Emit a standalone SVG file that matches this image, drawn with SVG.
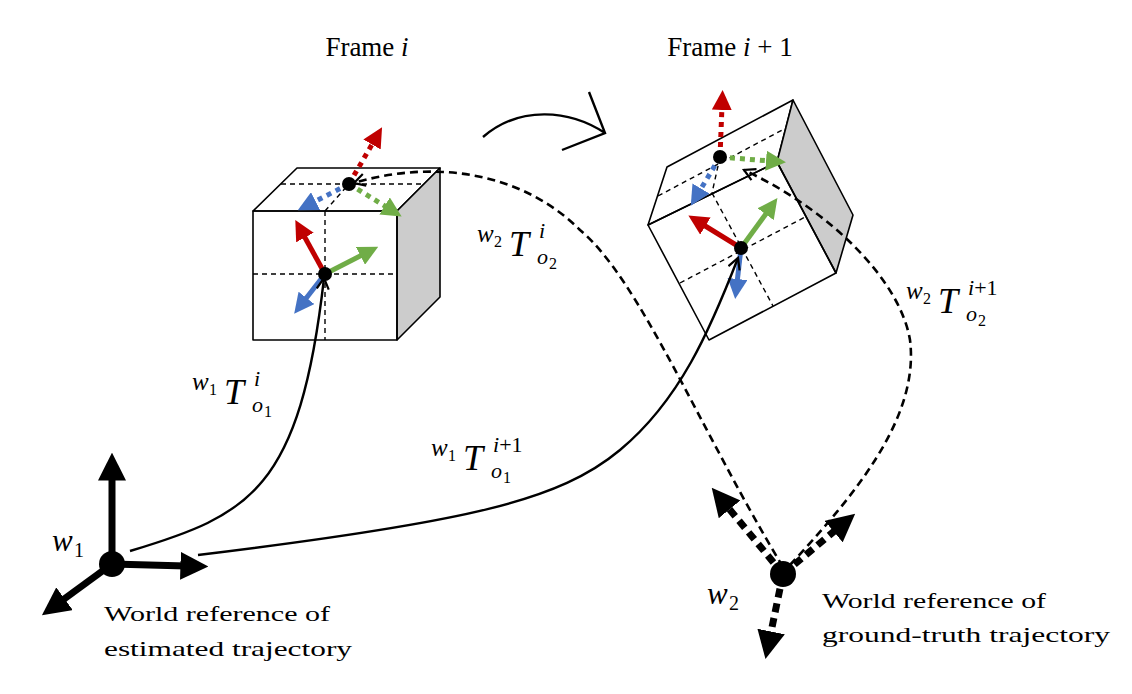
<svg xmlns="http://www.w3.org/2000/svg" width="1132" height="694" viewBox="0 0 1132 694">
<defs>
<marker id="oa" viewBox="0 0 14 14" refX="12" refY="7" markerWidth="14" markerHeight="14" markerUnits="userSpaceOnUse" orient="auto"><path d="M1,1 L12,7 L1,13" fill="none" stroke="#000" stroke-width="2.2"/></marker>
<marker id="trR" viewBox="0 0 10 10" refX="2" refY="5" markerWidth="4" markerHeight="4" orient="auto"><path d="M0,0 L10,5 L0,10 z" fill="#c00000"/></marker>
<marker id="trG" viewBox="0 0 10 10" refX="2" refY="5" markerWidth="4" markerHeight="4" orient="auto"><path d="M0,0 L10,5 L0,10 z" fill="#70ad47"/></marker>
<marker id="trB" viewBox="0 0 10 10" refX="2" refY="5" markerWidth="4" markerHeight="4" orient="auto"><path d="M0,0 L10,5 L0,10 z" fill="#4472c4"/></marker>
<marker id="trK" viewBox="0 0 10 10" refX="2" refY="5" markerWidth="4" markerHeight="4" orient="auto"><path d="M0,0 L10,5 L0,10 z" fill="#000"/></marker>
</defs>
<style>
.e{fill:none;stroke:#000;stroke-width:1.6;stroke-linejoin:round}
.d{fill:none;stroke:#000;stroke-width:1.4;stroke-dasharray:5,4}
.s{fill:#ccc;stroke:#000;stroke-width:1.6;stroke-linejoin:round}
.r{stroke:#c00000;stroke-width:5;marker-end:url(#trR)}
.g{stroke:#70ad47;stroke-width:5;marker-end:url(#trG)}
.b{stroke:#4472c4;stroke-width:5;marker-end:url(#trB)}
.dot{stroke-dasharray:5,5}
.t{font-family:"Liberation Serif",serif;fill:#000}
.i{font-style:italic}
.c{fill:none;stroke:#000;stroke-width:2.4}
.cd{fill:none;stroke:#000;stroke-width:2.6;stroke-dasharray:8,5}
.k{stroke:#000;stroke-width:7;marker-end:url(#trK)}
.kd{stroke-dasharray:9,6}
.mw{font-size:25px}.ms{font-size:16px}.mT{font-size:36px}.mu{font-size:22px}
</style>
<g id="labels">
<text class="t" x="367" y="56" font-size="27" text-anchor="middle">Frame <tspan class="i">i</tspan></text>
<text class="t" x="730" y="56" font-size="27" text-anchor="middle">Frame <tspan class="i">i</tspan> + 1</text>
</g>
<g id="cube1">
<path class="e" d="M253,211 L297,168 L440,168 L397,211 Z"/>
<path class="s" d="M397,211 L440,168 L440,297 L397,340 Z"/>
<rect class="e" x="253" y="211" width="144" height="129" fill="#fff"/>
<path class="d" d="M253,274 H397 M325,211 V340 M281,184 H424 M325,211 L349,184"/>
<line class="r" x1="325" y1="274" x2="303" y2="234"/>
<line class="g" x1="325" y1="274" x2="364" y2="254"/>
<line class="b" x1="325" y1="274" x2="304" y2="301"/>
<line class="r dot" x1="349" y1="184" x2="374" y2="141"/>
<line class="g dot" x1="349" y1="184" x2="388" y2="208"/>
<line class="b dot" x1="349" y1="184" x2="312" y2="203"/>
<circle cx="325" cy="274" r="7"/>
<circle cx="349" cy="184" r="7"/>
</g>
<g id="cube2">
<path class="e" d="M648,225 L667,167 L793,100 L777,162 Z" fill="#fff"/>
<path class="s" d="M777,162 L793,100 L853,215 L836,273 Z"/>
<path class="e" d="M648,225 L777,162 L836,273 L709,340 Z" fill="#fff"/>
<path class="d" d="M658,196 L786,128 M680,283 L807,216 M712,193 L773,306 M720,157 L712,193"/>
<line class="r" x1="741" y1="248" x2="702" y2="224"/>
<line class="g" x1="741" y1="248" x2="768" y2="211"/>
<line class="b" x1="741" y1="248" x2="737" y2="283"/>
<line class="r dot" x1="720" y1="157" x2="722" y2="106"/>
<line class="g dot" x1="720" y1="157" x2="770" y2="161"/>
<line class="b dot" x1="720" y1="157" x2="699" y2="192"/>
<circle cx="741" cy="248" r="7"/>
<circle cx="720" cy="157" r="7"/>
</g>
<g id="w1">
<line class="k" x1="112" y1="564" x2="112" y2="475"/>
<line class="k" x1="112" y1="564" x2="186" y2="566"/>
<line class="k" x1="112" y1="564" x2="60" y2="602"/>
<circle cx="112" cy="564" r="13"/>
<text class="t i" x="52" y="551" font-size="31">w</text>
<text class="t" x="74" y="557" font-size="20">1</text>
<text class="t" x="104" y="621" font-size="22" textLength="226" lengthAdjust="spacingAndGlyphs">World reference of</text>
<text class="t" x="104" y="656" font-size="22" textLength="248" lengthAdjust="spacingAndGlyphs">estimated trajectory</text>
</g>
<g id="w2">
<line class="k kd" x1="783" y1="574" x2="726" y2="505"/>
<line class="k kd" x1="783" y1="574" x2="838" y2="528"/>
<line class="k kd" x1="783" y1="574" x2="770" y2="637"/>
<circle cx="783" cy="574" r="13"/>
<text class="t i" x="707" y="604" font-size="31">w</text>
<text class="t" x="729" y="610" font-size="20">2</text>
<text class="t" x="822" y="608" font-size="22" textLength="224" lengthAdjust="spacingAndGlyphs">World reference of</text>
<text class="t" x="822" y="642" font-size="22" textLength="288" lengthAdjust="spacingAndGlyphs">ground-truth trajectory</text>
</g>
<g id="connectors">
<path class="c" d="M130,551 C250,515 300,490 324,278" marker-end="url(#oa)"/>
<path class="c" d="M198,555 C470,522 560,500 620,450 C680,400 710,330 738,258" marker-end="url(#oa)"/>
<path class="cd" d="M783,567 C700,430 640,280 580,230 C520,170 430,160 354,183" marker-end="url(#oa)"/>
<path class="cd" d="M790,565 C850,500 920,420 910,340 C900,280 830,210 744,170" marker-end="url(#oa)"/>
<path class="c" d="M483,137 C520,105 570,110 605,133 M589,92 L605,133 L562,150"/>
</g>
<g id="math" class="t">
<g transform="translate(228,404)">
<text class="i mw" x="-36" y="-14">w</text><text class="ms" x="-19" y="-9">1</text>
<text class="i mT" x="-4" y="0">T</text><text class="i mu" x="26" y="-18">i</text>
<text class="i mu" x="24" y="8">o</text><text class="ms" x="36" y="13">1</text>
</g>
<g transform="translate(513,256)">
<text class="i mw" x="-36" y="-14">w</text><text class="ms" x="-19" y="-9">2</text>
<text class="i mT" x="-4" y="0">T</text><text class="i mu" x="26" y="-18">i</text>
<text class="i mu" x="24" y="8">o</text><text class="ms" x="36" y="13">2</text>
</g>
<g transform="translate(467,470)">
<text class="i mw" x="-36" y="-14">w</text><text class="ms" x="-19" y="-9">1</text>
<text class="i mT" x="-4" y="0">T</text><text class="mu" x="26" y="-18"><tspan class="i">i</tspan>+1</text>
<text class="i mu" x="24" y="8">o</text><text class="ms" x="36" y="13">1</text>
</g>
<g transform="translate(942,313)">
<text class="i mw" x="-36" y="-14">w</text><text class="ms" x="-19" y="-9">2</text>
<text class="i mT" x="-4" y="0">T</text><text class="mu" x="26" y="-18"><tspan class="i">i</tspan>+1</text>
<text class="i mu" x="24" y="8">o</text><text class="ms" x="36" y="13">2</text>
</g>
</g>
</svg>
